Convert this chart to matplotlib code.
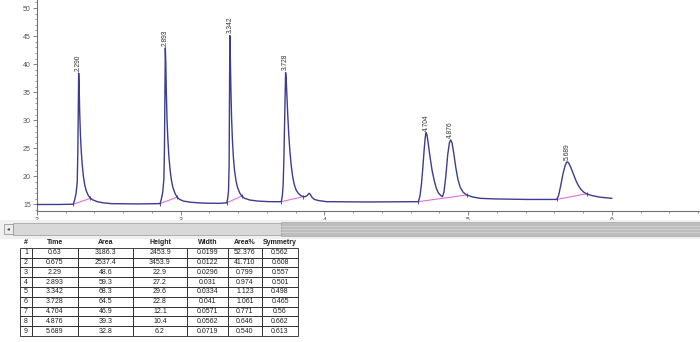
import numpy as np
import matplotlib
matplotlib.use("Agg")
import matplotlib.pyplot as plt
from matplotlib.patches import Rectangle
from matplotlib.ticker import MultipleLocator

# chromatogram trace, points (time, signal)
trace_t = [2.00, 2.15, 2.253, 2.262, 2.272, 2.280, 2.284, 2.288, 2.290, 2.293, 2.297, 2.302, 2.308,
           2.315, 2.323, 2.332, 2.343, 2.357, 2.372, 2.39, 2.42, 2.46, 2.52, 2.70,
           2.856, 2.865, 2.875, 2.883, 2.887, 2.891, 2.893, 2.896, 2.900, 2.905, 2.911, 2.918, 2.926,
           2.935, 2.946, 2.960, 2.975, 2.993, 3.02, 3.07, 3.15, 3.27,
           3.320, 3.327, 3.333, 3.337, 3.340, 3.342, 3.345, 3.349, 3.354, 3.360, 3.367, 3.375,
           3.385, 3.396, 3.41, 3.425, 3.445, 3.48, 3.54, 3.62,
           3.700, 3.707, 3.713, 3.718, 3.724, 3.730, 3.734, 3.739, 3.745, 3.752, 3.760, 3.769,
           3.779, 3.790, 3.803, 3.818, 3.835, 3.853, 3.868, 3.880, 3.893, 3.902, 3.913, 3.93,
           3.96, 4.016, 4.30,
           4.654, 4.665, 4.675, 4.685, 4.695, 4.703, 4.708, 4.714, 4.722, 4.735, 4.750, 4.765,
           4.780, 4.795, 4.810, 4.822, 4.832, 4.845, 4.858, 4.870, 4.879, 4.888, 4.900, 4.915,
           4.93, 4.945, 4.965, 4.99, 5.03, 5.083, 5.173, 5.408,
           5.617, 5.630, 5.645, 5.660, 5.675, 5.685, 5.691, 5.700, 5.715, 5.732, 5.750, 5.767,
           5.785, 5.805, 5.825, 5.86, 5.918, 6.00]
trace_y = [15.0, 15.0, 15.05, 15.8, 17.0, 19.0, 24.0, 33.0, 38.4, 36.5, 31.5, 27.5, 24.5,
           22.0, 20.0, 18.5, 17.4, 16.6, 16.1, 15.8, 15.5, 15.3, 15.15, 15.1,
           15.15, 15.9, 17.2, 19.5, 25.0, 37.0, 42.9, 40.5, 35.0, 30.0, 26.5, 23.5, 21.2,
           19.4, 18.0, 17.0, 16.3, 15.9, 15.6, 15.4, 15.25, 15.2,
           15.3, 16.0, 17.5, 22.0, 35.0, 45.1, 42.0, 36.0, 30.5, 26.5, 23.3, 21.0,
           19.2, 18.0, 17.1, 16.5, 16.1, 15.8, 15.6, 15.5,
           15.5, 16.5, 18.5, 23.0, 31.0, 38.5, 37.5, 34.5, 31.0, 27.5, 24.5, 22.0,
           20.0, 18.6, 17.6, 17.0, 16.6, 16.4, 16.4, 16.6, 17.0, 16.8, 16.3, 15.9,
           15.7, 15.5, 15.45,
           15.5, 16.5, 18.5, 21.5, 25.0, 27.2, 27.8, 27.4, 26.0, 23.5, 21.0, 19.2,
           17.8, 17.0, 16.6, 16.4, 17.2, 20.0, 23.8, 26.0, 26.5, 26.0, 24.2, 21.5,
           19.4, 18.1, 17.2, 16.7, 16.35, 16.1, 16.0, 15.9,
           15.9, 16.6, 18.4, 20.4, 21.9, 22.5, 22.6, 22.4, 21.6, 20.5, 19.3, 18.4,
           17.7, 17.2, 16.9, 16.6, 16.3, 16.1]

# integration baselines (start t, start y, end t, end y)
base_t0 = [2.253, 2.856, 3.320, 3.700, 4.654, 5.617]
base_y0 = [15.05, 15.15, 15.3, 15.5, 15.5, 15.9]
base_t1 = [2.372, 2.975, 3.425, 3.853, 4.99, 5.825]
base_y1 = [16.1, 16.3, 16.5, 16.4, 16.7, 16.9]

peak_labels = ["2.290", "2.893", "3.342", "3.728", "4.704", "4.876", "5.689"]
peak_t = [2.290, 2.893, 3.342, 3.730, 4.708, 4.879, 5.691]

# peak table
col_labels = ["#", "Time", "Area", "Height", "Width", "Area%", "Symmetry"]
num = ["1", "2", "3", "4", "5", "6", "7", "8", "9"]
time_ = ["0.63", "0.675", "2.29", "2.893", "3.342", "3.728", "4.704", "4.876", "5.689"]
area = ["3186.3", "2537.4", "48.6", "59.3", "68.3", "64.5", "46.9", "39.3", "32.8"]
height = ["2453.9", "3453.9", "22.9", "27.2", "29.6", "22.8", "12.1", "10.4", "6.2"]
width = ["0.0199", "0.0122", "0.0296", "0.031", "0.0334", "0.041", "0.0571", "0.0562", "0.0719"]
area_pct = ["52.376", "41.710", "0.799", "0.974", "1.123", "1.061", "0.771", "0.646", "0.540"]
symmetry = ["0.562", "0.608", "0.557", "0.501", "0.498", "0.465", "0.56", "0.662", "0.613"]

W, H = 700, 342


def box(x0, y0, x1, y1):
    # pixel box (top-left origin) -> figure fraction rect
    return [x0 / W, (H - y1) / H, (x1 - x0) / W, (y1 - y0) / H]


plt.rcParams['font.family'] = ['Liberation Sans', 'DejaVu Sans']
fig = plt.figure(figsize=(7, 3.42), dpi=100)
fig.patch.set_facecolor("white")

ax = fig.add_axes(box(37, 0, 700, 211))
ax.plot(trace_t, trace_y, color="#3c3c90", lw=1.0, zorder=3)
for i in range(len(base_t0)):
    ax.plot([base_t0[i], base_t1[i]], [base_y0[i], base_y1[i]], color="#e070d8", lw=0.8, zorder=2)
    ax.plot([base_t0[i], base_t1[i]], [base_y0[i], base_y1[i]], ls="none", marker="|",
            ms=2.5, mew=0.6, color="#3a3a8e", zorder=4)

tt = np.array(trace_t)
yy = np.array(trace_y)
for lab, t in zip(peak_labels, peak_t):
    yt = np.interp(t, tt, yy)
    ax.annotate(lab, xy=(t, yt), xytext=(0, 1.5), textcoords="offset points",
                rotation=90, ha="center", va="bottom", fontsize=4.8, color="#333333")

ax.set_xlim(2, 6.614)
ax.set_ylim(13.84, 51.43)
ax.xaxis.set_major_locator(MultipleLocator(1))
ax.xaxis.set_minor_locator(MultipleLocator(0.2))
ax.yaxis.set_major_locator(MultipleLocator(5))
ax.yaxis.set_minor_locator(MultipleLocator(1))
for s in ["top", "right"]:
    ax.spines[s].set_visible(False)
for s in ["left", "bottom"]:
    ax.spines[s].set_color("#707070")
    ax.spines[s].set_linewidth(0.8)
ax.tick_params(which="major", length=3, width=0.6, color="#707070", labelsize=5,
               labelcolor="#555555", pad=1.5)
ax.tick_params(which="minor", length=1.5, width=0.5, color="#707070")

# scroll bar under the chart
fig.add_artist(Rectangle((0, (H - 239) / H), 1, 19 / H, transform=fig.transFigure,
                         facecolor="#f0f0f0", edgecolor="none"))
fig.add_artist(Rectangle((281 / W, (H - 236) / H), 419 / W, 14 / H, transform=fig.transFigure,
                         facecolor="#bdbdbd", edgecolor="#a8a8a8", lw=0.5))
for yl in [226, 229, 232]:
    fig.add_artist(plt.Line2D([281 / W, 1], [(H - yl) / H] * 2, transform=fig.transFigure,
                              color="#cfcfcf", lw=0.8))
fig.add_artist(Rectangle((13 / W, (H - 235) / H), 268 / W, 12 / H, transform=fig.transFigure,
                         facecolor="#d8d8d8", edgecolor="#9a9a9a", lw=0.5))
fig.add_artist(Rectangle((4 / W, (H - 234) / H), 9 / W, 10 / H, transform=fig.transFigure,
                         facecolor="#ececec", edgecolor="#8a8a8a", lw=0.5))
fig.text(8.5 / W, (H - 229) / H, "\u25c2", fontsize=4, ha="center", va="center",
         color="#333333", family=["DejaVu Sans"])

# peak table
tab_ax = fig.add_axes(box(20, 238, 298, 336))
tab_ax.axis("off")
rows = list(zip(num, time_, area, height, width, area_pct, symmetry))
col_w = [12, 46, 55, 54, 41, 34, 36]
tbl = tab_ax.table(cellText=rows, colLabels=col_labels, colWidths=[c / sum(col_w) for c in col_w],
                   cellLoc="center", bbox=[0, 0, 1, 1])
tbl.auto_set_font_size(False)
tbl.set_fontsize(5)
for (r, c), cell in tbl.get_celld().items():
    cell.set_linewidth(0.6)
    cell.set_edgecolor("#222222")
    cell.get_text().set_color("#222222")
    cell.PAD = 0.02
    if r == 0:
        cell.visible_edges = ""
        cell.get_text().set_fontweight("bold")

fig.savefig("out.png", dpi=100)
